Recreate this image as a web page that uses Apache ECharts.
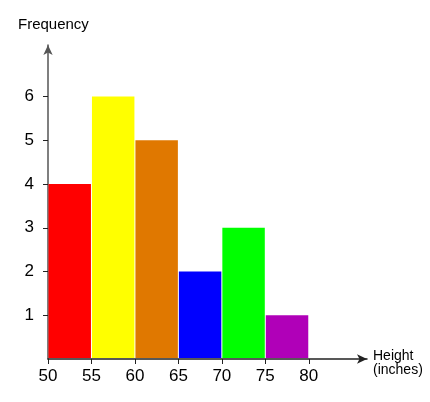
<!DOCTYPE html>
<html>
<head>
<meta charset="utf-8">
<script src="https://cdn.jsdelivr.net/npm/echarts@6/dist/echarts.min.js"></script>
<style>
  html, body { margin: 0; padding: 0; background: #fff; }
  #chart-container { width: 430px; height: 402px; }
</style>
</head>
<body>
<div id="chart-container"></div>
<script>
// bin edges (inches) and frequencies
var binStarts = [50, 55, 60, 65, 70, 75];
var binWidth = 5;
var frequencies = [4, 6, 5, 2, 3, 1];
var binColors = ['#ff0000', '#ffff00', '#e07800', '#0000ff', '#00ff00', '#b000b8'];
var xTicks = [50, 55, 60, 65, 70, 75, 80];
var yTicks = [1, 2, 3, 4, 5, 6];

var dom = document.getElementById('chart-container');
var myChart = echarts.init(dom, null, { renderer: 'canvas' });

var data = binStarts.map(function (s, i) {
  return { value: [s, s + binWidth, frequencies[i]], itemStyle: { color: binColors[i] } };
});

var axisFont = { color: '#000', fontSize: 17, fontFamily: 'Liberation Sans' };

var option = {
  animation: false,
  grid: { left: 48, right: 63, top: 45, bottom: 43 },
  xAxis: {
    type: 'value',
    min: 50,
    max: 86.7,
    interval: 5,
    splitLine: { show: false },
    axisLine: { lineStyle: { color: '#222', width: 1.5 }, symbol: ['none', 'arrow'], symbolSize: [7, 10] },
    axisTick: { show: true, length: 5, lineStyle: { color: '#222' }, customValues: xTicks },
    axisLabel: Object.assign({ margin: 9, customValues: xTicks }, axisFont)
  },
  yAxis: {
    type: 'value',
    min: 0,
    max: 7.18,
    interval: 1,
    splitLine: { show: false },
    axisLine: { show: true, lineStyle: { color: '#555', width: 1.5 }, symbol: ['none', 'arrow'], symbolSize: [7, 10] },
    axisTick: { show: true, length: 5, lineStyle: { color: '#222' }, customValues: yTicks },
    axisLabel: Object.assign({ margin: 14, customValues: yTicks }, axisFont)
  },
  graphic: [
    { type: 'text', left: 18, top: 17, style: { text: 'Frequency', fontSize: 15, fontFamily: 'Liberation Sans', fill: '#000' } },
    { type: 'text', left: 373, top: 349, style: { text: 'Height\n(inches)', fontSize: 14, lineHeight: 14, fontFamily: 'Liberation Sans', fill: '#000', align: 'center', x: 24 } }
  ],
  series: [{
    type: 'custom',
    data: data,
    renderItem: function (params, api) {
      var p0 = api.coord([api.value(0), 0]);
      var p1 = api.coord([api.value(1), api.value(2)]);
      return {
        type: 'rect',
        shape: { x: p0[0] + 0.5, y: p1[1], width: p1[0] - p0[0] - 1, height: p0[1] - p1[1] - 1 },
        style: api.style()
      };
    }
  }]
};

myChart.setOption(option);
window.addEventListener('resize', myChart.resize);
</script>
</body>
</html>
